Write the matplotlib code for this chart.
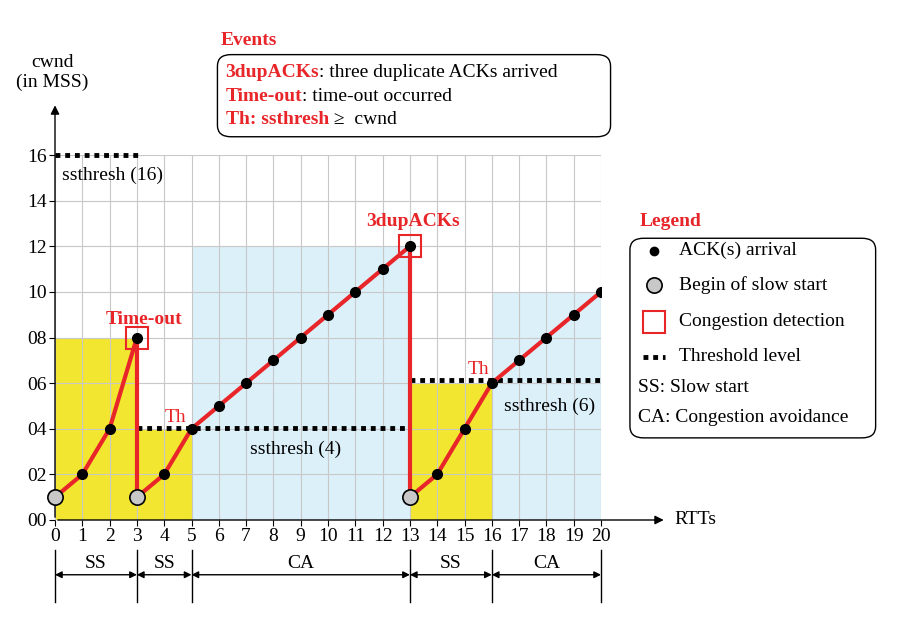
import matplotlib
matplotlib.use("Agg")
import matplotlib.pyplot as plt
from matplotlib.patches import FancyBboxPatch, Rectangle

plt.rcParams['font.family'] = ['Liberation Serif', 'DejaVu Serif']
plt.rcParams['font.size'] = 13

rtt1 = [0, 1, 2, 3]; cw1 = [1, 2, 4, 8]
rtt2 = [3, 4, 5, 6, 7, 8, 9, 10, 11, 12, 13]; cw2 = [1, 2, 4, 5, 6, 7, 8, 9, 10, 11, 12]
rtt3 = [13, 14, 15, 16, 17, 18, 19, 20]; cw3 = [1, 2, 4, 6, 7, 8, 9, 10]
phases = [(0, 3, 8, 'SS', 'y'), (3, 5, 4, 'SS', 'y'), (5, 13, 12, 'CA', 'b'),
          (13, 16, 6, 'SS', 'y'), (16, 20, 10, 'CA', 'b')]
yticks = [0, 2, 4, 6, 8, 10, 12, 14, 16]
ytlabels = ['00', '02', '04', '06', '08', '10', '12', '14', '16']

RED = '#e8262a'
YEL = '#f3e630'
BLU = '#dcf0fa'
FS = 14

fig = plt.figure(figsize=(8.97, 6.23), dpi=100)
ax = fig.add_axes([55/897, 103/623, 546/897, 365/623])
ax.set_xlim(0, 20); ax.set_ylim(0, 16)
for s in ax.spines.values(): s.set_visible(False)
ax.set_xticks(range(21)); ax.set_yticks(yticks)
ax.set_yticklabels(ytlabels)
ax.tick_params(length=4, direction='out', pad=2, labelsize=FS)
ax.grid(True, color='#c8c8c8', lw=0.8, zorder=0)

for x0, x1, h, lab, c in phases:
    ax.add_patch(Rectangle((x0, 0), x1 - x0, h, color=YEL if c == 'y' else BLU, zorder=1, lw=0))

ax.annotate('', xy=(0, 18.3), xytext=(0, 0), arrowprops=dict(arrowstyle='-|>', color='k', lw=1), annotation_clip=False)
ax.annotate('', xy=(22.4, 0), xytext=(0, 0), arrowprops=dict(arrowstyle='-|>', color='k', lw=1), annotation_clip=False)
ax.text(22.7, 0, 'RTTs', va='center', ha='left', fontsize=FS)
ax.text(-0.1, 19.6, 'cwnd\n(in MSS)', ha='center', va='center', fontsize=FS)

ax.plot([0, 3.1], [16, 16], 'k', ls=(0, (1, 1)), lw=3.5, clip_on=False, zorder=3)
ax.text(0.25, 15.1, 'ssthresh (16)', va='center', fontsize=FS)
ax.plot([3, 13], [4.05, 4.05], 'k', ls=(0, (1, 1)), lw=3.5, zorder=3)
ax.text(8.8, 3.1, 'ssthresh (4)', ha='center', va='center', fontsize=FS)
ax.plot([13, 20], [6.15, 6.15], 'k', ls=(0, (1, 1)), lw=3.5, zorder=3)
ax.text(18.1, 5.0, 'ssthresh (6)', ha='center', va='center', fontsize=FS)
ax.text(4.4, 4.5, 'Th', color=RED, ha='center', va='center', fontsize=FS)
ax.text(15.5, 6.6, 'Th', color=RED, ha='center', va='center', fontsize=FS)

for xs, ys in [(rtt1, cw1), (rtt2, cw2), (rtt3, cw3)]:
    ax.plot(xs, ys, color=RED, lw=3, zorder=4)
    ax.plot(xs[1:], ys[1:], 'o', color='k', ms=7, zorder=5)
ax.plot([3, 3], [8, 1], color=RED, lw=3, zorder=4)
ax.plot([13, 13], [12, 1], color=RED, lw=3, zorder=4)
for x in [0, 3, 13]:
    ax.plot(x, 1, 'o', ms=11, mfc='#c8c8c8', mec='k', mew=1.2, zorder=6, clip_on=False)
for x, y in [(3, 8), (13, 12)]:
    ax.plot(x, y, 's', ms=16, mfc='none', mec=RED, mew=1.5, zorder=6)
ax.text(3.25, 8.6, 'Time-out', color=RED, weight='bold', ha='center', fontsize=FS)
ax.text(13.1, 12.9, '3dupACKs', color=RED, weight='bold', ha='center', fontsize=FS)

for x in [0, 3, 5, 13, 16, 20]:
    ax.plot([x, x], [-1.3, -3.6], 'k', lw=1, clip_on=False)
for x0, x1, h, lab, c in phases:
    ax.annotate('', xy=(x0, -2.4), xytext=(x1, -2.4), arrowprops=dict(arrowstyle='<|-|>', color='k', lw=1,
                shrinkA=0, shrinkB=0, mutation_scale=10), annotation_clip=False)
    ax.text((x0 + x1) / 2, -1.9, lab, ha='center', va='center', fontsize=FS)

# Events box
ax.text(6.05, 21.0, 'Events', color=RED, weight='bold', fontsize=FS, va='center')
ax.add_patch(FancyBboxPatch((5.95, 16.8), 14.4, 3.6, boxstyle='round,pad=0,rounding_size=0.5',
                            fc='white', ec='k', lw=1, clip_on=False))
ev = [('3dupACKs', ': three duplicate ACKs arrived'), ('Time-out', ': time-out occurred'),
      ('Th: ssthresh', ' \u2265  cwnd')]
for i, (a, b) in enumerate(ev):
    t = ax.text(6.25, 19.4 - i * 1.03, a, color=RED, weight='bold', fontsize=FS, va='baseline')
    ax.annotate(b, xy=(1, 0), xycoords=t, va='bottom', ha='left', fontsize=FS)

# Legend box
ax.text(21.4, 13.1, 'Legend', color=RED, weight='bold', fontsize=FS, va='center')
ax.add_patch(FancyBboxPatch((21.06, 3.6), 9.0, 8.75, boxstyle='round,pad=0,rounding_size=0.5',
                            fc='white', ec='k', lw=1, clip_on=False))
ly = [11.8, 10.3, 8.7, 7.15, 5.8, 4.5]
lx, tx = 21.95, 22.85
ax.plot(lx, ly[0], 'o', color='k', ms=6, clip_on=False)
ax.plot(lx, ly[1], 'o', ms=11, mfc='#c8c8c8', mec='k', mew=1.2, clip_on=False)
ax.plot(lx, ly[2], 's', ms=16, mfc='none', mec=RED, mew=1.5, clip_on=False)
ax.plot([lx - 0.4, lx + 0.4], [ly[3], ly[3]], 'k', ls=(0, (1, 1)), lw=3.5, clip_on=False)
labs = ['ACK(s) arrival', 'Begin of slow start', 'Congestion detection', 'Threshold level']
for y, l in zip(ly[:4], labs):
    ax.text(tx, y, l, va='center', fontsize=FS)
ax.text(21.35, ly[4], 'SS: Slow start', va='center', fontsize=FS)
ax.text(21.35, ly[5], 'CA: Congestion avoidance', va='center', fontsize=FS)

fig.savefig('out.png', dpi=100)
